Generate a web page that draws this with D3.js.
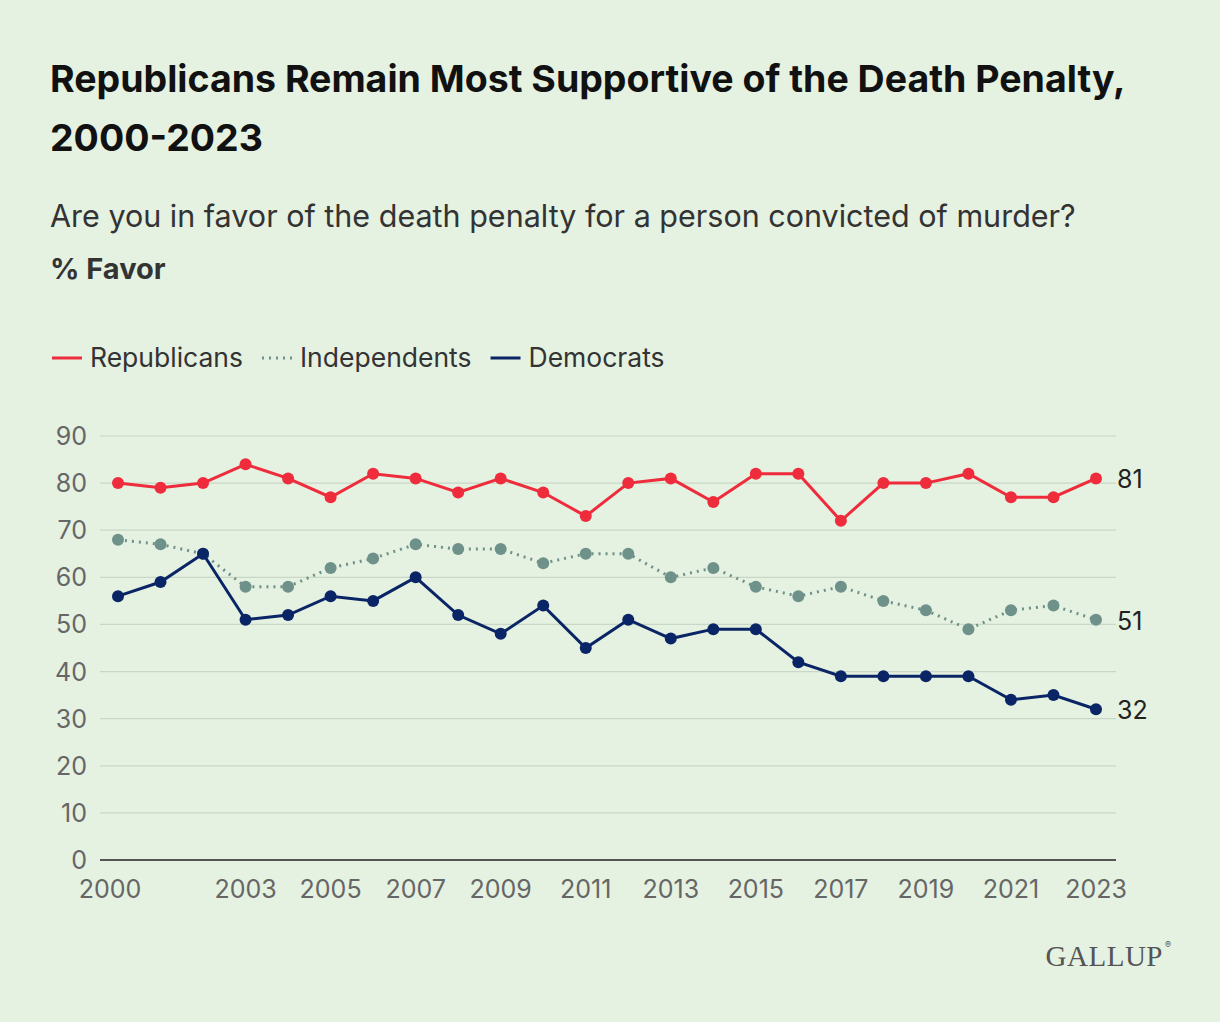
<!DOCTYPE html>
<html><head><meta charset="utf-8">
<script src="https://cdn.jsdelivr.net/npm/d3@7"></script>
<style>
body{margin:0;background:#e5f1e1;font-family:Inter,"Noto Sans",sans-serif;}
</style></head>
<body><svg id="c" width="1220" height="1022"></svg>
<script>
const years = d3.range(2000, 2024);
const republicans = [80,79,80,84,81,77,82,81,78,81,78,73,80,81,76,82,82,72,80,80,82,77,77,81];
const independents = [68,67,65,58,58,62,64,67,66,66,63,65,65,60,62,58,56,58,55,53,49,53,54,51];
const democrats = [56,59,65,51,52,56,55,60,52,48,54,45,51,47,49,49,42,39,39,39,39,34,35,32];
const xTicks = [2000,2003,2005,2007,2009,2011,2013,2015,2017,2019,2021,2023];
const yTicks = d3.range(0, 100, 10);

const series = [
  {name:'Republicans', values:republicans, color:'#ee2c3c', dash:null},
  {name:'Independents', values:independents, color:'#6e9189', dash:'2,5'},
  {name:'Democrats', values:democrats, color:'#0a2566', dash:null}
];

const svg = d3.select('#c');
svg.append('rect').attr('width',1220).attr('height',1022).attr('fill','#e5f1e1');

// title block
svg.append('text').attr('x',50).attr('y',92).attr('font-size',37.5).attr('font-weight',700).attr('fill','#111')
  .text('Republicans Remain Most Supportive of the Death Penalty,');
svg.append('text').attr('x',50).attr('y',151).attr('font-size',37.5).attr('font-weight',700).attr('fill','#111')
  .text('2000-2023');
svg.append('text').attr('x',50).attr('y',227).attr('font-size',30.5).attr('fill','#333')
  .text('Are you in favor of the death penalty for a person convicted of murder?');
svg.append('text').attr('x',50).attr('y',279).attr('font-size',29).attr('font-weight',700).attr('fill','#333')
  .text('% Favor');

// legend
let lx = 52;
const leg = svg.append('g');
series.forEach(s => {
  leg.append('line').attr('x1',lx).attr('x2',lx+30).attr('y1',358).attr('y2',358)
    .attr('stroke',s.color).attr('stroke-width',3).attr('stroke-dasharray',s.dash);
  const t = leg.append('text').attr('x',lx+38).attr('y',367).attr('font-size',26.5).attr('fill','#333').text(s.name);
  lx += 38 + t.node().getComputedTextLength() + 19;
});

const x = d3.scaleLinear().domain([2000,2023]).range([118,1096]);
const y = d3.scaleLinear().domain([0,90]).range([860,436]);

const grid = svg.append('g');
yTicks.forEach(v => {
  grid.append('line').attr('x1',100).attr('x2',1116).attr('y1',y(v)).attr('y2',y(v))
    .attr('stroke', v===0 ? '#222' : '#c9d8c6').attr('stroke-width', v===0 ? 1.5 : 1.2);
  grid.append('text').attr('x',87).attr('y',y(v)+9).attr('text-anchor','end')
    .attr('font-size',25).attr('fill','#666').text(v);
});
xTicks.forEach(v => {
  grid.append('text').attr('x',v===2000 ? x(v)-8 : x(v)).attr('y',898).attr('text-anchor','middle')
    .attr('font-size',25).attr('fill','#666').text(v);
});

const line = d3.line().x((d,i)=>x(years[i])).y(d=>y(d));
series.forEach(s => {
  svg.append('path').datum(s.values).attr('d',line).attr('fill','none')
    .attr('stroke',s.color).attr('stroke-width',3).attr('stroke-dasharray',s.dash);
  svg.append('g').selectAll('circle').data(s.values).join('circle')
    .attr('cx',(d,i)=>x(years[i])).attr('cy',d=>y(d)).attr('r',6).attr('fill',s.color);
  const last = s.values[s.values.length-1];
  svg.append('text').attr('x',x(2023)+21).attr('y',y(last)+10).attr('font-size',25).attr('fill','#222').text(last);
});

svg.append('text').attr('x',1163).attr('y',966).attr('text-anchor','end')
  .attr('font-family','"Liberation Serif",serif').attr('font-size',29).attr('fill','#555')
  .attr('letter-spacing',0.5).text('GALLUP');
svg.append('text').attr('x',1165).attr('y',948).attr('font-size',9).attr('fill','#555').text('®');
</script></body></html>
